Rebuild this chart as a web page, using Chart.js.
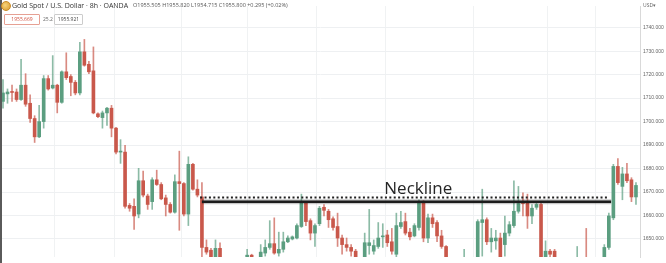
<!DOCTYPE html>
<html>
<head>
<meta charset="utf-8">
<script src="https://cdn.jsdelivr.net/npm/chart.js@4.4.0/dist/chart.umd.min.js"></script>
<style>
  html, body { margin: 0; padding: 0; background: #fff; }
  #wrap { position: relative; width: 666px; height: 263px; overflow: hidden; }
  #wrap canvas { position: absolute; left: 0; top: 0; }
  .txt { position: absolute; white-space: nowrap; font-family: "Open Sans", sans-serif; line-height: 1; }
  .box { position: absolute; height: 9px; border: 1px solid #ccc; border-radius: 1px; font-family: "Open Sans", sans-serif;
         font-size: 5px; line-height: 9px; text-align: center; color: #444; background: #fff; }
  #edge { position: absolute; left: 0; top: 0; width: 2px; height: 263px; background: #5a5a5a; }
  #icon { position: absolute; left: 1px; top: 1px; width: 8px; height: 8px; border-radius: 50%;
          background: radial-gradient(circle at 40% 40%, #f7d37a, #d99a2b); border: 1px solid #c98a25; }
</style>
</head>
<body>
<div id="wrap">
  <canvas id="chart" width="666" height="263"></canvas>
  <div id="edge"></div>
  <div id="icon"></div>
  <div class="txt" style="left:12px; top:2px; font-size:7px; color:#333;">Gold Spot / U.S. Dollar · 8h · OANDA</div>
  <div class="txt" style="left:133px; top:3px; font-size:5.5px; color:#555;">O1955.505 H1955.820 L1954.715 C1955.800 +0.295 (+0.02%)</div>
  <div class="box" style="left:4px; top:14px; width:34px; border-color:#e6a093; color:#d0503f;">1955.669</div>
  <div class="txt" style="left:43px; top:17px; font-size:5px; color:#666;">25.2</div>
  <div class="box" style="left:54px; top:14px; width:27px;">1955.921</div>
  <div class="txt" style="left:643px; top:3px; font-size:5px; color:#666;">USD▾</div>
</div>
<script>
// 8h candles (values below the visible area are estimates)
const opens = [
  1708.6, 1711.8, 1712.6, 1712.6, 1709.4, 1715.5, 1707.8, 1701.3, 1693.5, 1700.0,
  1718.3, 1714.3, 1715.5, 1708.2, 1721.2, 1719.2, 1716.7, 1712.2, 1729.7, 1724.4,
  1721.6, 1703.3, 1701.7, 1703.7, 1705.7, 1697.2, 1687.0, 1687.0, 1664.3, 1663.9,
  1660.6, 1674.8, 1668.3, 1665.9, 1675.2, 1673.2, 1667.5, 1664.7, 1661.4, 1674.4,
  1673.6, 1660.6, 1681.8, 1671.2, 1667.9, 1646.4, 1645.2, 1639.5, 1646.0, 1640.3,
  1636.0, 1633.0, 1635.0, 1634.0, 1638.0, 1643.1, 1639.5, 1638.0, 1644.0, 1646.4,
  1648.0, 1644.0, 1645.6, 1648.8, 1650.0, 1650.4, 1655.3, 1665.5, 1657.8, 1652.5,
  1656.5, 1663.5, 1661.8, 1658.6, 1655.3, 1650.4, 1647.6, 1646.4, 1644.8, 1641.5,
  1640.3, 1647.2, 1644.8, 1646.8, 1650.9, 1651.7, 1648.8, 1643.5, 1655.3, 1657.4,
  1652.9, 1651.3, 1654.9, 1665.9, 1650.4, 1659.0, 1657.0, 1651.3, 1646.8, 1641.5,
  1637.0, 1634.0, 1636.0, 1640.0, 1637.0, 1639.0, 1657.0, 1658.2, 1648.8, 1649.2,
  1650.4, 1647.6, 1652.5, 1655.7, 1661.8, 1665.9, 1665.5, 1659.8, 1663.5, 1664.7,
  1640.3, 1644.8, 1644.8, 1641.1, 1637.0, 1635.0, 1636.5, 1638.0, 1639.0, 1638.0,
  1636.0, 1634.0, 1636.0, 1639.0, 1646.4, 1659.0, 1680.9, 1672.4, 1677.7, 1675.2,
  1667.9
];
const highs = [
  1717.9, 1713.9, 1715.5, 1713.9, 1726.5, 1720.4, 1711.4, 1702.5, 1706.9, 1719.6,
  1719.6, 1728.1, 1715.9, 1721.6, 1729.3, 1720.0, 1717.5, 1733.8, 1735.0, 1725.7,
  1731.8, 1703.7, 1704.5, 1706.1, 1706.9, 1697.6, 1692.3, 1689.9, 1665.1, 1667.1,
  1680.1, 1678.9, 1669.1, 1676.1, 1679.3, 1674.0, 1668.7, 1665.5, 1677.3, 1687.4,
  1674.0, 1685.0, 1682.2, 1675.2, 1674.0, 1649.6, 1646.0, 1649.6, 1648.4, 1641.5,
  1638.0, 1637.0, 1638.0, 1641.0, 1645.6, 1643.5, 1641.0, 1647.6, 1649.6, 1657.8,
  1659.0, 1652.9, 1652.9, 1651.3, 1651.3, 1656.5, 1669.1, 1665.9, 1658.6, 1656.5,
  1663.9, 1664.7, 1662.6, 1659.4, 1661.0, 1651.7, 1650.4, 1647.6, 1645.6, 1642.0,
  1652.5, 1662.6, 1649.6, 1657.0, 1656.5, 1653.7, 1654.5, 1661.0, 1661.8, 1661.0,
  1654.5, 1656.5, 1666.7, 1666.3, 1660.6, 1660.6, 1657.8, 1653.7, 1647.2, 1642.0,
  1638.5, 1638.0, 1645.6, 1641.5, 1641.0, 1658.2, 1671.2, 1659.0, 1654.5, 1653.7,
  1652.5, 1659.8, 1657.4, 1674.8, 1672.4, 1669.6, 1669.1, 1664.7, 1665.5, 1665.5,
  1649.2, 1645.6, 1645.6, 1642.0, 1638.0, 1638.0, 1640.0, 1646.8, 1641.0, 1654.5,
  1638.0, 1638.0, 1641.0, 1647.6, 1661.0, 1681.8, 1684.2, 1680.5, 1682.2, 1676.1,
  1674.0
];
const lows = [
  1705.7, 1707.8, 1708.6, 1708.6, 1709.0, 1706.5, 1699.6, 1691.1, 1693.1, 1697.2,
  1713.4, 1713.9, 1703.7, 1707.8, 1717.9, 1711.0, 1711.4, 1711.4, 1723.6, 1720.4,
  1703.3, 1701.7, 1697.2, 1698.4, 1693.5, 1686.2, 1682.2, 1663.1, 1661.8, 1654.1,
  1659.0, 1667.9, 1662.6, 1662.6, 1672.8, 1666.7, 1659.8, 1661.0, 1661.0, 1653.7,
  1659.8, 1655.7, 1670.8, 1667.9, 1641.5, 1643.5, 1637.5, 1638.0, 1638.5, 1634.0,
  1631.0, 1630.0, 1632.0, 1633.0, 1637.0, 1638.0, 1636.0, 1637.0, 1642.7, 1645.6,
  1643.5, 1642.7, 1644.4, 1648.4, 1649.6, 1650.0, 1654.9, 1655.7, 1649.6, 1646.8,
  1655.7, 1659.8, 1654.9, 1653.7, 1646.8, 1643.5, 1644.8, 1642.7, 1640.0, 1637.0,
  1639.0, 1643.5, 1643.5, 1646.0, 1646.4, 1646.8, 1643.5, 1642.3, 1654.5, 1651.7,
  1649.6, 1650.9, 1653.7, 1648.8, 1648.4, 1654.9, 1648.8, 1646.0, 1640.0, 1635.0,
  1632.0, 1631.0, 1634.0, 1635.0, 1635.0, 1638.0, 1642.7, 1647.6, 1644.4, 1645.6,
  1639.5, 1642.7, 1651.3, 1654.9, 1661.0, 1659.8, 1654.5, 1656.5, 1662.6, 1638.0,
  1639.0, 1641.5, 1639.5, 1635.0, 1633.0, 1633.0, 1635.0, 1636.0, 1635.0, 1634.0,
  1632.0, 1632.0, 1634.0, 1638.0, 1645.6, 1658.2, 1673.2, 1666.7, 1674.0, 1665.9,
  1664.7
];
const closes = [
  1712.2, 1712.6, 1712.4, 1709.4, 1715.5, 1707.4, 1701.3, 1693.5, 1700.0, 1718.3,
  1713.9, 1715.5, 1708.2, 1721.2, 1718.7, 1716.7, 1712.2, 1729.7, 1724.0, 1721.2,
  1703.7, 1702.1, 1703.7, 1705.7, 1697.2, 1687.0, 1687.3, 1663.9, 1663.1, 1659.8,
  1674.8, 1668.7, 1664.7, 1675.2, 1673.2, 1667.1, 1664.7, 1661.4, 1674.4, 1673.6,
  1660.6, 1681.8, 1671.2, 1668.7, 1646.4, 1644.4, 1639.5, 1646.0, 1640.3, 1636.0,
  1633.0, 1635.0, 1634.0, 1638.0, 1643.1, 1639.5, 1638.0, 1644.4, 1646.4, 1648.0,
  1644.0, 1645.6, 1648.8, 1650.4, 1650.9, 1655.7, 1665.5, 1657.4, 1652.5, 1655.7,
  1663.1, 1662.2, 1658.2, 1654.9, 1650.4, 1647.6, 1646.4, 1644.8, 1641.5, 1639.0,
  1648.4, 1648.4, 1647.2, 1650.4, 1651.3, 1648.4, 1644.8, 1655.7, 1657.0, 1652.5,
  1650.9, 1655.7, 1665.9, 1650.4, 1659.0, 1656.5, 1651.3, 1646.8, 1641.5, 1637.0,
  1634.0, 1636.0, 1640.0, 1637.0, 1639.0, 1657.4, 1658.2, 1648.8, 1650.4, 1650.4,
  1641.1, 1652.5, 1656.1, 1661.8, 1665.1, 1665.1, 1659.8, 1663.1, 1664.7, 1640.3,
  1644.8, 1643.5, 1641.1, 1637.0, 1635.0, 1636.5, 1638.0, 1639.0, 1637.0, 1636.0,
  1634.0, 1636.0, 1639.0, 1646.4, 1659.8, 1680.9, 1674.0, 1677.7, 1674.8, 1667.9,
  1672.8
];

const priceTicks = [1650, 1660, 1670, 1680, 1690, 1700, 1710, 1720, 1730, 1740];
// session boundaries (candle index) where the vertical grid lines fall
const sessionTicks = [5.3, 17.3, 32, 47, 61.3, 77.2, 92, 116, 125, 137];

const necklinePrice = 1665.9;
const necklineFrom = 44.0;
const necklineTo = 134.5;
const dottedPrice = 1667.7;
const dottedFrom = 43.6;
const dottedTo = 133.6;
const necklineLabel = 'Neckline';

const GREEN = '#5b9e80';
const RED = '#c9584b';

const idx = opens.map((_, i) => i);
const isUp = i => closes[i] >= opens[i];

const neckLabelPlugin = {
  id: 'neckLabel',
  afterDatasetsDraw(chart) {
    const { ctx, scales } = chart;
    const x = scales.x.getPixelForValue((necklineFrom + necklineTo) / 2 + 2.6);
    const y = scales.y.getPixelForValue(dottedPrice) - 3;
    ctx.save();
    ctx.font = '17px "Open Sans", sans-serif';
    ctx.fillStyle = '#262626';
    ctx.textAlign = 'center';
    ctx.textBaseline = 'alphabetic';
    ctx.fillText(necklineLabel, x, y);
    ctx.restore();
  }
};

new Chart(document.getElementById('chart'), {
  type: 'bar',
  data: {
    datasets: [
      {
        type: 'line',
        data: [{ x: dottedFrom, y: dottedPrice }, { x: dottedTo, y: dottedPrice }],
        borderColor: '#222',
        borderWidth: 2,
        borderDash: [2, 2.4],
        pointRadius: 0,
        order: -2
      },
      {
        type: 'line',
        data: [{ x: necklineFrom, y: necklinePrice }, { x: necklineTo, y: necklinePrice }],
        borderColor: '#1c1c1c',
        borderWidth: 2.5,
        pointRadius: 0,
        order: -1
      },
      {
        type: 'line',
        data: [{ x: necklineFrom, y: necklinePrice }, { x: necklineTo, y: necklinePrice }],
        borderColor: 'rgba(0,0,0,0.22)',
        borderWidth: 5,
        pointRadius: 0,
        order: 0
      },
      {
        label: 'body',
        data: idx.map(i => ({ x: i, y: [Math.min(opens[i], closes[i]), Math.max(opens[i], closes[i])] })),
        backgroundColor: idx.map(i => isUp(i) ? GREEN : RED),
        barThickness: 3,
        minBarLength: 1,
        grouped: false,
        order: 1
      },
      {
        label: 'wick',
        data: idx.map(i => ({ x: i, y: [lows[i], highs[i]] })),
        backgroundColor: idx.map(i => isUp(i) ? 'rgba(91,158,128,0.7)' : 'rgba(201,88,75,0.7)'),
        barThickness: 1,
        grouped: false,
        order: 2
      }
    ]
  },
  options: {
    responsive: false,
    animation: false,
    devicePixelRatio: 1,
    layout: { padding: { left: 1, right: 0, top: 0, bottom: 0 } },
    plugins: { legend: { display: false }, tooltip: { enabled: false } },
    scales: {
      x: {
        type: 'linear',
        min: -0.44,
        max: 140.89,
        offset: false,
        ticks: { display: false },
        grid: { color: '#f0f2f3', drawTicks: false },
        border: { display: false },
        afterBuildTicks: s => { s.ticks = sessionTicks.map(v => ({ value: v })); },
        afterFit: s => { s.height = 0; }
      },
      y: {
        position: 'right',
        min: 1642.32,
        max: 1749.23,
        ticks: {
          color: '#666',
          padding: 3,
          font: { size: 5, family: '"Liberation Sans", Arial, sans-serif' },
          callback: v => v.toFixed(3)
        },
        grid: { color: '#eef0f2', drawTicks: false },
        border: { display: true, color: '#d9d9d9' },
        afterBuildTicks: s => { s.ticks = priceTicks.map(v => ({ value: v })); },
        afterFit: s => { s.width = 26; }
      }
    }
  },
  plugins: [neckLabelPlugin]
});
</script>
</body>
</html>
